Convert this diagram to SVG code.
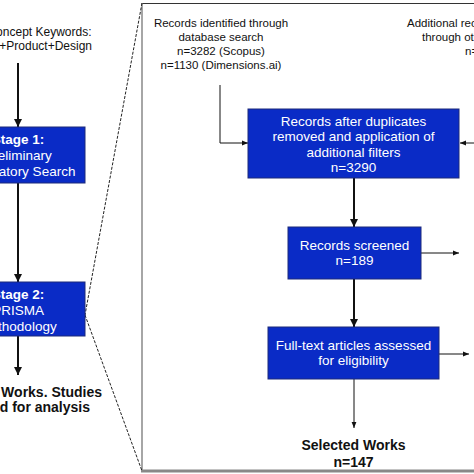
<svg xmlns="http://www.w3.org/2000/svg" width="474" height="474" viewBox="0 0 474 474">
<defs>
<marker id="ah" viewBox="0 0 10 10" refX="10" refY="5" markerWidth="4" markerHeight="4" orient="auto" markerUnits="strokeWidth"><path d="M0,0 L10,5 L0,10 z" fill="#111"/></marker>
<marker id="ahs" viewBox="0 0 10 10" refX="10" refY="5" markerWidth="6" markerHeight="6" orient="auto" markerUnits="strokeWidth"><path d="M0,1 L10,5 L0,9 z" fill="#111"/></marker>
</defs>
<style>
.box{fill:#0a2bc6;stroke:#1c2a7a;stroke-width:1}
.wt{fill:#fff;font-family:"Liberation Sans",Arial,sans-serif;font-size:13.5px}
.wb{fill:#fff;font-family:"Liberation Sans",Arial,sans-serif;font-size:13.5px;font-weight:bold}
.bt{fill:#111;font-family:"Liberation Sans",Arial,sans-serif;font-size:11.5px}
.kt{fill:#111;font-family:"Liberation Sans",Arial,sans-serif;font-size:12px}
.bb{fill:#111;font-family:"Liberation Sans",Arial,sans-serif;font-size:14px;font-weight:bold}
.thick{stroke:#111;stroke-width:2;fill:none}
.thin{stroke:#111;stroke-width:1;fill:none}
</style>
<rect width="474" height="474" fill="#fff"/>
<g id="panel">
<line x1="142" y1="3.5" x2="474" y2="3.5" stroke="#333" stroke-width="1.2"/>
<line x1="142" y1="3" x2="142" y2="471" stroke="#888" stroke-width="1.5"/>
<line x1="141" y1="471" x2="474" y2="471" stroke="#888" stroke-width="3"/>
<line x1="142" y1="3" x2="85" y2="315" stroke="#222" stroke-width="1" stroke-dasharray="3,1.5"/>
<line x1="85" y1="315" x2="142" y2="471" stroke="#222" stroke-width="1" stroke-dasharray="3,1.5"/>
</g>
<g id="connectors">
<line class="thick" x1="18" y1="63" x2="18" y2="127" marker-end="url(#ah)"/>
<line class="thick" x1="18" y1="183" x2="18" y2="282" marker-end="url(#ah)"/>
<line class="thick" x1="18" y1="336" x2="18" y2="375" marker-end="url(#ah)"/>
<polyline class="thin" points="220,85 220,143 248,143" marker-end="url(#ahs)"/>
<line class="thin" x1="474" y1="143" x2="460" y2="143" marker-end="url(#ahs)"/>
<line class="thick" x1="354" y1="178" x2="354" y2="227" marker-end="url(#ah)"/>
<line class="thin" x1="421" y1="253" x2="459" y2="253" marker-end="url(#ahs)"/>
<line class="thick" x1="354" y1="279" x2="354" y2="327" marker-end="url(#ah)"/>
<line class="thin" x1="439" y1="354" x2="469" y2="354" marker-end="url(#ahs)"/>
<line class="thin" x1="354" y1="379" x2="354" y2="428" marker-end="url(#ahs)"/>
</g>
<g id="keywords">
<text class="kt" x="91.5" y="36" text-anchor="end">Concept Keywords:</text>
<text class="kt" x="92" y="50" text-anchor="end">AI+Product+Design</text>
</g>
<g id="stage1">
<rect class="box" x="-50" y="127" width="135" height="56"/>
<text class="wb" x="18" y="144" text-anchor="middle">Stage 1:</text>
<text class="wt" x="18" y="160" text-anchor="middle">Preliminary</text>
<text class="wt" x="18" y="176" text-anchor="middle">Exploratory Search</text>
</g>
<g id="stage2">
<rect class="box" x="-50" y="282" width="135" height="54"/>
<text class="wb" x="18" y="299" text-anchor="middle">Stage 2:</text>
<text class="wt" x="18" y="315" text-anchor="middle">PRISMA</text>
<text class="wt" x="18" y="331" text-anchor="middle">Methodology</text>
</g>
<g id="result-left">
<text class="bb" x="102" y="397" text-anchor="end">Selected Works. Studies</text>
<text class="bb" x="90" y="412" text-anchor="end">selected for analysis</text>
</g>
<g id="identified">
<text class="bt" x="221" y="27" text-anchor="middle">Records identified through</text>
<text class="bt" x="221" y="41" text-anchor="middle">database search</text>
<text class="bt" x="221" y="55" text-anchor="middle">n=3282 (Scopus)</text>
<text class="bt" x="221" y="69" text-anchor="middle">n=1130 (Dimensions.ai)</text>
</g>
<g id="additional">
<text class="bt" x="407" y="27">Additional records identified</text>
<text class="bt" x="422" y="41">through other sources</text>
<text class="bt" x="465" y="55">n=</text>
</g>
<g id="dedup">
<rect class="box" x="248" y="109" width="211" height="69"/>
<text class="wt" x="353.5" y="126" text-anchor="middle">Records after duplicates</text>
<text class="wt" x="353.5" y="141" text-anchor="middle">removed and application of</text>
<text class="wt" x="353.5" y="157" text-anchor="middle">additional filters</text>
<text class="wt" x="353.5" y="172" text-anchor="middle">n=3290</text>
</g>
<g id="screened">
<rect class="box" x="288" y="227" width="133" height="52"/>
<text class="wt" x="354.5" y="250" text-anchor="middle">Records screened</text>
<text class="wt" x="354.5" y="265" text-anchor="middle">n=189</text>
</g>
<g id="fulltext">
<rect class="box" x="268" y="327" width="171" height="52"/>
<text class="wt" x="353.5" y="350" text-anchor="middle">Full-text articles assessed</text>
<text class="wt" x="353.5" y="365" text-anchor="middle">for eligibility</text>
</g>
<g id="selected">
<text class="bb" x="353.5" y="450" text-anchor="middle">Selected Works</text>
<text class="bb" x="353.5" y="467" text-anchor="middle">n=147</text>
</g>
</svg>
